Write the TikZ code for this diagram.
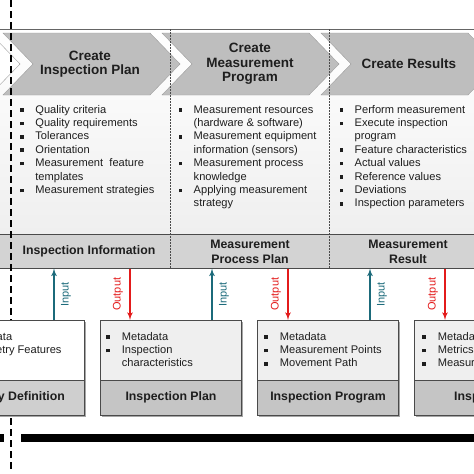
\documentclass[tikz,border=0pt]{standalone}
\usepackage{fontspec}
\setmainfont{Liberation Sans}
\usetikzlibrary{arrows,positioning,shadows}
\definecolor{chevgray}{HTML}{BEBEBE}
\definecolor{bandgray}{HTML}{D3D3D3}
\definecolor{titlegray}{HTML}{C5C5C5}
\definecolor{bodygray}{HTML}{EFEFEF}
\definecolor{framegray}{HTML}{4A4A4A}
\definecolor{inteal}{HTML}{1B6A7A}
\definecolor{outred}{HTML}{E31B1B}
\definecolor{ink}{HTML}{1E1E1E}
\newcommand{\sq}{\rule[1.3pt]{3.6pt}{3.6pt}}
\tikzset{
  chevron/.style={fill=chevgray, draw=gray!75, line width=0.4pt},
  hdr/.style={font=\fontsize{13.5}{14.3}\selectfont\bfseries, align=center, text=ink, inner sep=0pt},
  items/.style={font=\fontsize{11.1}{13.4}\selectfont, text=ink, inner sep=0pt, anchor=north west},
  bandtxt/.style={font=\fontsize{12.3}{15}\selectfont\bfseries, align=center, text=ink, inner sep=0pt},
  boxbody/.style={draw=framegray, fill=bodygray, minimum width=141pt, minimum height=60pt, inner sep=0pt, outer sep=0pt, line width=0.8pt,
    drop shadow={shadow xshift=1.6pt, shadow yshift=-1.6pt, fill=black, opacity=0.35}},
  boxtitle/.style={boxbody, fill=titlegray, minimum height=35pt, font=\fontsize{12.3}{15}\selectfont\bfseries, text=ink},
  sep/.style={draw=framegray, dash pattern=on 1.5pt off 1.5pt, line width=0.7pt},
  inarrow/.style={->, draw=inteal, line width=1.6pt},
  outarrow/.style={->, draw=outred, line width=1.6pt},
  inlbl/.style={midway, xshift=12pt, rotate=90, text=inteal, inner sep=0pt, font=\fontsize{11}{13}\selectfont},
  outlbl/.style={midway, xshift=-12pt, rotate=90, text=outred, inner sep=0pt, font=\fontsize{11}{13}\selectfont}
}
\begin{document}
\begin{tikzpicture}[x=1pt, y=-1pt, >=latex']
\path[use as bounding box] (0,0) rectangle (474,474);
\clip (0,0) rectangle (474,474);

% upper panel
\draw[draw=framegray!85, top color=white, bottom color=bodygray] (-5,29) rectangle (480,234);

% process steps
\draw[chevron, fill=white] (-157,33) -- (-10,33) -- (20,64) -- (-10,95) -- (-157,95) -- (-127,64) -- cycle;
\draw[chevron] (3,33) -- (150,33) -- (180,64) -- (150,95) -- (3,95) -- (33,64) -- cycle;
\draw[chevron] (162,33) -- (309,33) -- (339,64) -- (309,95) -- (162,95) -- (192,64) -- cycle;
\draw[chevron] (321,33) -- (468,33) -- (498,64) -- (468,95) -- (321,95) -- (351,64) -- cycle;
\node[hdr] (plan_hdr) at (90,64) {Create\\Inspection Plan};
\node[hdr] (prog_hdr) at (250,64) {Create\\Measurement\\Program};
\node[hdr] (res_hdr) at (409,64) {Create Results};

% activities
\node[items] (plan_list) at (20.2,103.6) {\begin{tabular}{@{}p{15pt}@{}l@{}}
\sq & Quality criteria\\
\sq & Quality requirements\\
\sq & Tolerances\\
\sq & Orientation\\
\sq & Measurement\ \ feature\\
    & templates\\
\sq & Measurement strategies
\end{tabular}};
\node[items] (prog_list) at (178.5,103.6) {\begin{tabular}{@{}p{15pt}@{}l@{}}
\sq & Measurement resources\\
    & (hardware \& software)\\
\sq & Measurement equipment\\
    & information (sensors)\\
\sq & Measurement process\\
    & knowledge\\
\sq & Applying measurement\\
    & strategy
\end{tabular}};
\node[items] (res_list) at (339.5,103.6) {\begin{tabular}{@{}p{15pt}@{}l@{}}
\sq & Perform measurement\\
\sq & Execute inspection\\
    & program\\
\sq & Feature characteristics\\
\sq & Actual values\\
\sq & Reference values\\
\sq & Deviations\\
\sq & Inspection parameters
\end{tabular}};

% information band
\node[draw=framegray, fill=bandgray, line width=1pt, minimum width=490pt, minimum height=34pt, inner sep=0pt] (band) at (237,251) {};
\draw[sep] (170,29) -- (170,268);
\draw[sep] (329,29) -- (329,268);
\node[bandtxt] (info) at (89,251.5) {Inspection Information};
\node[bandtxt] (mpp) at (250,251.5) {Measurement\\Process Plan};
\node[bandtxt] (mres) at (408,251.5) {Measurement\\Result};

\draw[line width=2.2pt, dash pattern=on 7pt off 4pt] (11,0) -- (11,470);

% artefacts
\node[boxbody, fill=white] (qual_top) at (14,350) {};
\node[boxtitle, fill=bandgray!110, below=0pt of qual_top] (qual) {Quality Definition};
\node[boxbody] (plan_top) at (171,350) {};
\node[boxtitle, below=0pt of plan_top] (plan) {Inspection Plan};
\node[boxbody] (prog_top) at (328,350) {};
\node[boxtitle, below=0pt of prog_top] (prog) {Inspection Program};
\node[boxbody, minimum width=182pt] (res_top) at (505.5,350) {};
\node[boxtitle, minimum width=182pt, below=0pt of res_top] (res) {Inspection Result};

\node[items] (qual_list) at (-49.8,330.6) {\begin{tabular}{@{}p{15.5pt}@{}l@{}}
\sq & Metadata\\
\sq & Geometry Features
\end{tabular}};
\node[items] (plan_items) at (106.2,330.6) {\begin{tabular}{@{}p{15.5pt}@{}l@{}}
\sq & Metadata\\
\sq & Inspection\\
    & characteristics
\end{tabular}};
\node[items] (prog_items) at (264.2,330.6) {\begin{tabular}{@{}p{15.5pt}@{}l@{}}
\sq & Metadata\\
\sq & Measurement Points\\
\sq & Movement Path
\end{tabular}};
\node[items] (res_items) at (422.2,330.6) {\begin{tabular}{@{}p{15.5pt}@{}l@{}}
\sq & Metadata\\
\sq & Metrics\\
\sq & Measurements
\end{tabular}};

% input / output
\coordinate (in1) at (54,0);
\coordinate (out2) at (130,0);
\coordinate (in2) at (212,0);
\coordinate (out3) at (288,0);
\coordinate (in3) at (370,0);
\coordinate (out4) at (445,0);
\draw[inarrow] (qual_top.north -| in1) -- node[inlbl] {Input} (band.south -| in1);
\draw[outarrow] (band.south -| out2) -- node[outlbl] {Output} (plan_top.north -| out2);
\draw[inarrow] (plan_top.north -| in2) -- node[inlbl] {Input} (band.south -| in2);
\draw[outarrow] (band.south -| out3) -- node[outlbl] {Output} (prog_top.north -| out3);
\draw[inarrow] (prog_top.north -| in3) -- node[inlbl] {Input} (band.south -| in3);
\draw[outarrow] (band.south -| out4) -- node[outlbl] {Output} (res_top.north -| out4);

% time line
\draw[line width=7.5pt] (-5,438) -- (4,438);
\draw[line width=7.5pt] (21,438) -- (480,438);
\end{tikzpicture}
\end{document}
